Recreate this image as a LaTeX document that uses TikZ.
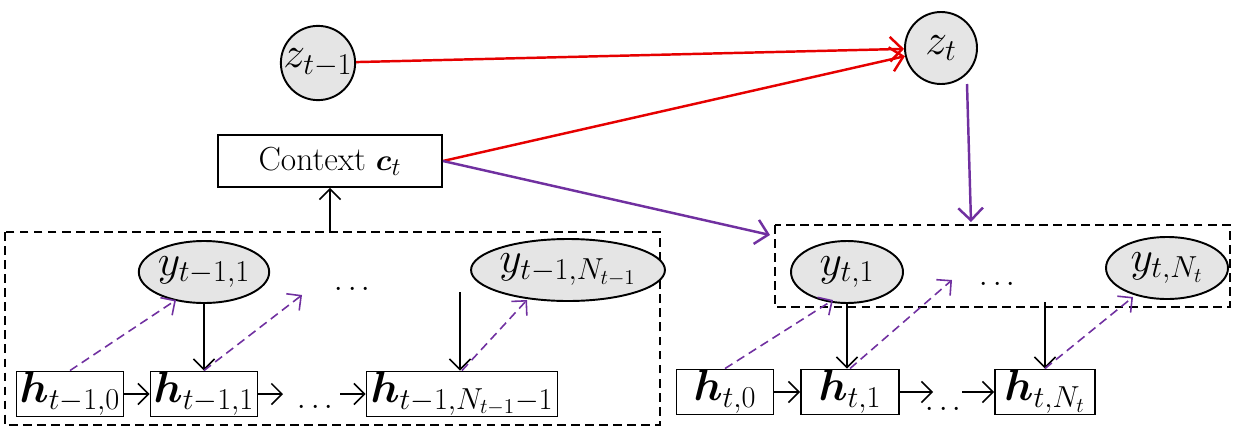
\documentclass[tikz,border=0pt]{standalone}
\usepackage{amsmath,bm}
\usetikzlibrary{arrows.meta,shapes.geometric}
\definecolor{pur}{RGB}{112,48,160}
\definecolor{rd}{RGB}{230,0,0}
\begin{document}
\begin{tikzpicture}[x=0.02cm,y=-0.02cm,
  every node/.style={font=\fontsize{24}{28}\selectfont},
  circ/.style={circle,draw,line width=1.1pt,fill=gray!20,minimum size=72*0.02cm,inner sep=0pt},
  ell/.style={ellipse,draw,line width=1.1pt,fill=gray!20,inner sep=0pt},
  box/.style={draw,line width=1.1pt,minimum height=45*0.02cm,inner sep=0pt},
  dbox/.style={draw,line width=1.1pt,dash pattern=on 5pt off 3pt},
  dots/.style={font=\fontsize{18}{20}\selectfont,inner sep=0pt},
  blk/.style={-{Straight Barb[length=6pt]},line width=0.9pt},
  red/.style={-{Straight Barb[length=7pt]},rd,line width=1.4pt},
  pu/.style={-{Straight Barb[length=7pt]},pur,line width=1.4pt},
  pd/.style={-{Straight Barb[length=6pt]},pur,line width=0.9pt,dash pattern=on 5pt off 3pt}]
\useasboundingbox (0,0) rectangle (1234,433);
% top
\node[circ] (z1) at (318,63) {$z_{t-1}$};
\node[circ] (z2) at (941,48) {$z_t$};
\node[box,minimum width=224*0.02cm,minimum height=52*0.02cm,font=\fontsize{19}{22}\selectfont] (ctx) at (330,161) {Context $\bm{c}_t$};
% left group
\draw[dbox] (5,232) rectangle (660,425);
\coordinate (ltop) at (330,232);
\node[ell,minimum width=116*0.02cm,minimum height=62*0.02cm] (y11) at (204,272) {$y_{t-1,1}$};
\node[ell,minimum width=176*0.02cm,minimum height=62*0.02cm] (y1n) at (568,270) {$y_{t-1,N_{t-1}}$};
\node[dots] (d1) at (355,290) {$\cdots$};
\node[box,minimum width=107*0.02cm] (h10) at (70,394) {$\bm{h}_{t-1,0}$};
\node[box,minimum width=107*0.02cm] (h11) at (204,394) {$\bm{h}_{t-1,1}$};
\node[dots] (d2) at (318,408) {$\cdots$};
\node[box,minimum width=191*0.02cm] (h1n) at (462,394) {$\bm{h}_{t-1,N_{t-1}-1}$};
\coordinate (a1) at (460,292);
\coordinate (p1) at (176,300);
\coordinate (p2) at (302,295);
\coordinate (p3) at (527,300);
\coordinate (q1) at (283,394);
\coordinate (q2) at (340,394);
\draw[blk] (y11) -- (h11);
\draw[blk] (a1) -- (a1|-h1n.north);
\draw[blk] (h10) -- (h11);
\draw[blk] (h11) -- (q1);
\draw[blk] (q2) -- (h1n);
\draw[pd] (h10.north) -- (p1);
\draw[pd] (h11.north) -- (p2);
\draw[pd] (h1n.north) -- (p3);
\draw[blk] (ltop) -- (ctx);
% right group
\draw[dbox] (775,225) rectangle (1230,307);
\node[ell,minimum width=112*0.02cm,minimum height=62*0.02cm] (y21) at (847,272) {$y_{t,1}$};
\node[ell,minimum width=122*0.02cm,minimum height=62*0.02cm] (y2n) at (1167,268) {$y_{t,N_t}$};
\node[dots] (d3) at (1000,285) {$\cdots$};
\node[box,minimum width=97*0.02cm] (h20) at (725,392) {$\bm{h}_{t,0}$};
\node[box,minimum width=98*0.02cm] (h21) at (850,392) {$\bm{h}_{t,1}$};
\node[dots] (d4) at (946,410) {$\cdots$};
\node[box,minimum width=100*0.02cm] (h2n) at (1045,392) {$\bm{h}_{t,N_t}$};
\coordinate (a2) at (1045,302);
\coordinate (r1) at (833,300);
\coordinate (r2) at (952,280);
\coordinate (r3) at (1133,297);
\coordinate (s1) at (933,392);
\coordinate (s2) at (962,392);
\draw[blk] (y21.south) -- (y21.south|-h21.north);
\draw[blk] (a2) -- (h2n.north);
\draw[blk] (h20) -- (h21);
\draw[blk] (h21) -- (s1);
\draw[blk] (s2) -- (h2n);
\draw[pd] (h20.north) -- (r1);
\draw[pd] (h21.north) -- (r2);
\draw[pd] (h2n.north) -- (r3);
% top arrows
\coordinate (ybox) at (770,235);
\coordinate (zb) at (967,84);
\coordinate (ztop) at (971,222);
\draw[red] (z1) -- (z2);
\draw[red] (ctx.east) -- (z2);
\draw[pu] (ctx.east) -- (ybox);
\draw[pu] (zb) -- (ztop);
\end{tikzpicture}
\end{document}
